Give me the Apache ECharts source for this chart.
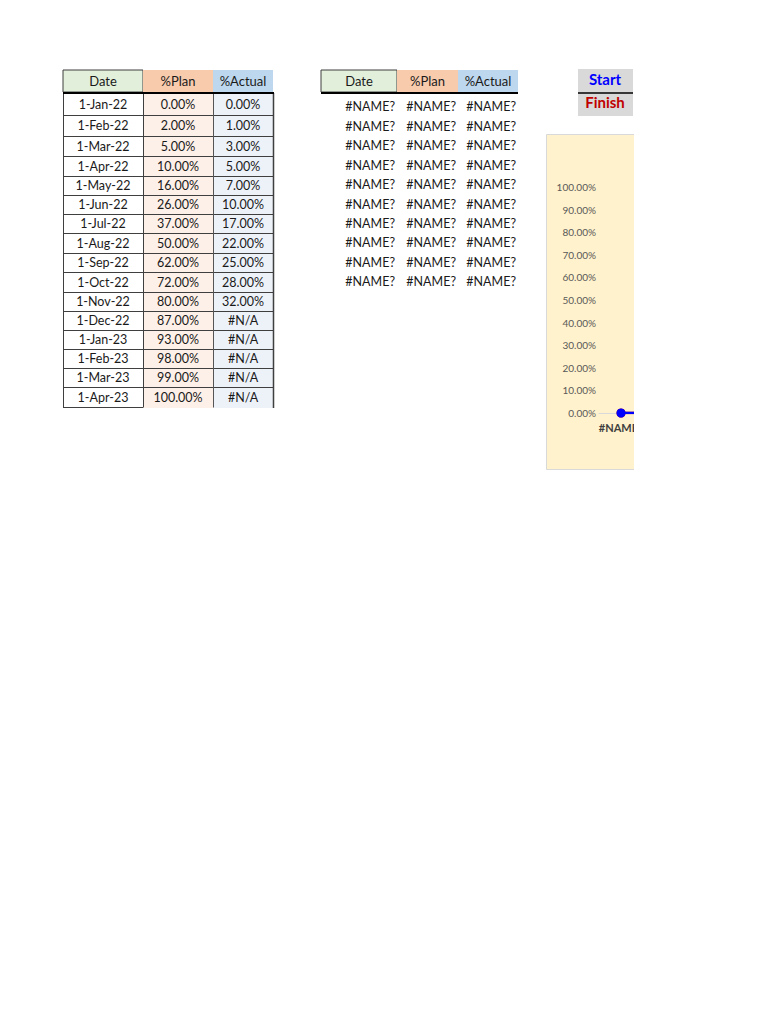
<!DOCTYPE html>
<html>
<head>
<meta charset="utf-8">
<script src="https://cdn.jsdelivr.net/npm/echarts@6/dist/echarts.min.js"></script>
<style>
html,body{margin:0;padding:0;background:#fff;}
#main{width:768px;height:1024px;}
</style>
</head>
<body>
<div id="main"></div>
<script>
// ---- data ----
const tableHeaders = ['Date', '%Plan', '%Actual'];
const dates = ['1-Jan-22','1-Feb-22','1-Mar-22','1-Apr-22','1-May-22','1-Jun-22','1-Jul-22','1-Aug-22','1-Sep-22','1-Oct-22','1-Nov-22','1-Dec-22','1-Jan-23','1-Feb-23','1-Mar-23','1-Apr-23'];
const planPct = [0, 2, 5, 10, 16, 26, 37, 50, 62, 72, 80, 87, 93, 98, 99, 100];
const actualPct = [0, 1, 3, 5, 7, 10, 17, 22, 25, 28, 32, null, null, null, null, null];
const nameRows = ['#NAME?','#NAME?','#NAME?','#NAME?','#NAME?','#NAME?','#NAME?','#NAME?','#NAME?','#NAME?'];
const chartCategories = ['#NAME?','#NAME?','#NAME?','#NAME?','#NAME?','#NAME?','#NAME?','#NAME?','#NAME?','#NAME?'];
const chartPlan = [0, 0, 0, 0, 0, 0, 0, 0, 0, 0];
const chartActual = [0, 0, 0, 0, 0, 0, 0, 0, 0, 0];
const statusLabels = ['Start', 'Finish'];

// ---- layout ----
const FONT = 'Lato, "Noto Sans", sans-serif';
const rowBottoms = [115,136,156,176,195,214,233,253,272,292,311,330,349,368,387,407];
const t1Cols = [63, 143, 213, 273];
const t2Cols = [321, 397, 458, 518];
const t2RowY = [106,126,145,165,184,204,223,242,262,281];
const headerFills = ['#E2EFDA', '#F8CBAD', '#BDD7EE'];
const LINE = '#3f3f3f';

const g = [];
function txt(x, y, s, opts) {
  g.push({type:'text', x:x, y:y, z:10,
    style: Object.assign({text:s, fontSize:12.5, fontFamily:FONT, fill:'#1a1a1a', align:'center', verticalAlign:'middle'}, (opts||{}))
  });
}
function rect(x, y, w, h, fill, stroke, z) {
  g.push({type:'rect', z: z||1, shape:{x:x, y:y, width:w, height:h},
    style:{fill:fill, stroke:stroke||null, lineWidth: stroke?1:0}});
}
function line(x1, y1, x2, y2, color, w, z) {
  g.push({type:'line', z: z||5, shape:{x1:x1,y1:y1,x2:x2,y2:y2}, style:{stroke:color, lineWidth:w||1}});
}

// Table 1
rect(143, 93, 70, 315, '#FDF0E8');
rect(213, 93, 60, 315, '#EDF2F9');
for (let c = 0; c < 3; c++) {
  rect(t1Cols[c], 70, t1Cols[c+1]-t1Cols[c], 22, headerFills[c], c===0 ? LINE : null, 2);
  txt((t1Cols[c]+t1Cols[c+1])/2, 81, tableHeaders[c], {fontSize:13});
}
line(63, 93, 274, 93, '#000', 2, 6);
let prev = 93;
rowBottoms.forEach((b, i) => {
  const cy = (prev + b) / 2;
  txt(103, cy, dates[i]);
  txt(178, cy, planPct[i].toFixed(2) + '%');
  txt(243, cy, actualPct[i] === null ? '#N/A' : actualPct[i].toFixed(2) + '%');
  line(63, b + 0.5, i === rowBottoms.length-1 ? 143 : 273, b + 0.5, LINE, 1);
  prev = b;
});
line(63.5, 93, 63.5, 407.5, LINE, 1);
line(143.5, 93, 143.5, 407.5, LINE, 1);
line(213.5, 93, 213.5, 407.5, '#555', 1);
line(273.5, 93, 273.5, 408, LINE, 1.5);

// Table 2
for (let c = 0; c < 3; c++) {
  rect(t2Cols[c], 70, t2Cols[c+1]-t2Cols[c], 22, headerFills[c], c===0 ? LINE : null, 2);
  txt((t2Cols[c]+t2Cols[c+1])/2, 81, tableHeaders[c], {fontSize:13});
}
line(321, 93, 518, 93, '#000', 2, 6);
t2RowY.forEach((y, i) => {
  txt(395, y, nameRows[i], {align:'right'});
  txt(456, y, nameRows[i], {align:'right'});
  txt(516, y, nameRows[i], {align:'right'});
});

// Start / Finish box
rect(578, 69, 55, 47, '#D9D9D9');
line(578, 93, 633, 93, '#000', 1.5, 6);
txt(605, 79, statusLabels[0], {fontSize:15, fontWeight:'bold', fill:'#0000FF'});
txt(605, 102, statusLabels[1], {fontSize:15, fontWeight:'bold', fill:'#C00000'});

// chart background
g.push({type:'rect', z:-10, shape:{x:546.5, y:134.5, width:200, height:335},
  style:{fill:'#FFF2CC', stroke:'#D9D9D9', lineWidth:1}});
// right-side crop (spreadsheet screenshot ends here)
g.push({type:'rect', z:200, shape:{x:634, y:125, width:140, height:360}, style:{fill:'#ffffff'}});

const chart = echarts.init(document.getElementById('main'), null, {renderer:'svg'});
chart.setOption({
  backgroundColor: '#ffffff',
  animation: false,
  graphic: g,
  grid: {left: 599, top: 187, width: 440, height: 226, outerBoundsMode: 'none', containLabel: false},
  xAxis: {
    type: 'category',
    data: chartCategories,
    boundaryGap: true,
    axisLine: {show: true, lineStyle: {color: '#D9D9D9', width: 1}},
    axisTick: {show: false},
    axisLabel: {color: '#404040', fontSize: 11, fontFamily: FONT, fontWeight: 'bold', margin: 9,
      interval: (i) => i === 0, hideOverlap: false}
  },
  yAxis: {
    type: 'value',
    min: 0, max: 1, interval: 0.1,
    axisLine: {show: false},
    axisTick: {show: false},
    splitLine: {show: false},
    axisLabel: {color: '#595959', fontSize: 10, fontFamily: FONT, margin: 3,
      formatter: v => (v * 100).toFixed(2) + '%'}
  },
  series: [
    {name: '%Plan', type: 'line', data: chartPlan, symbol: 'circle', symbolSize: 9,
      lineStyle: {color: '#C00000', width: 2.5}, itemStyle: {color: '#C00000'}, z: 2},
    {name: '%Actual', type: 'line', data: chartActual, symbol: 'circle', symbolSize: 9,
      lineStyle: {color: '#0000FF', width: 2.5}, itemStyle: {color: '#0000FF'}, z: 3}
  ]
});
</script>
</body>
</html>
